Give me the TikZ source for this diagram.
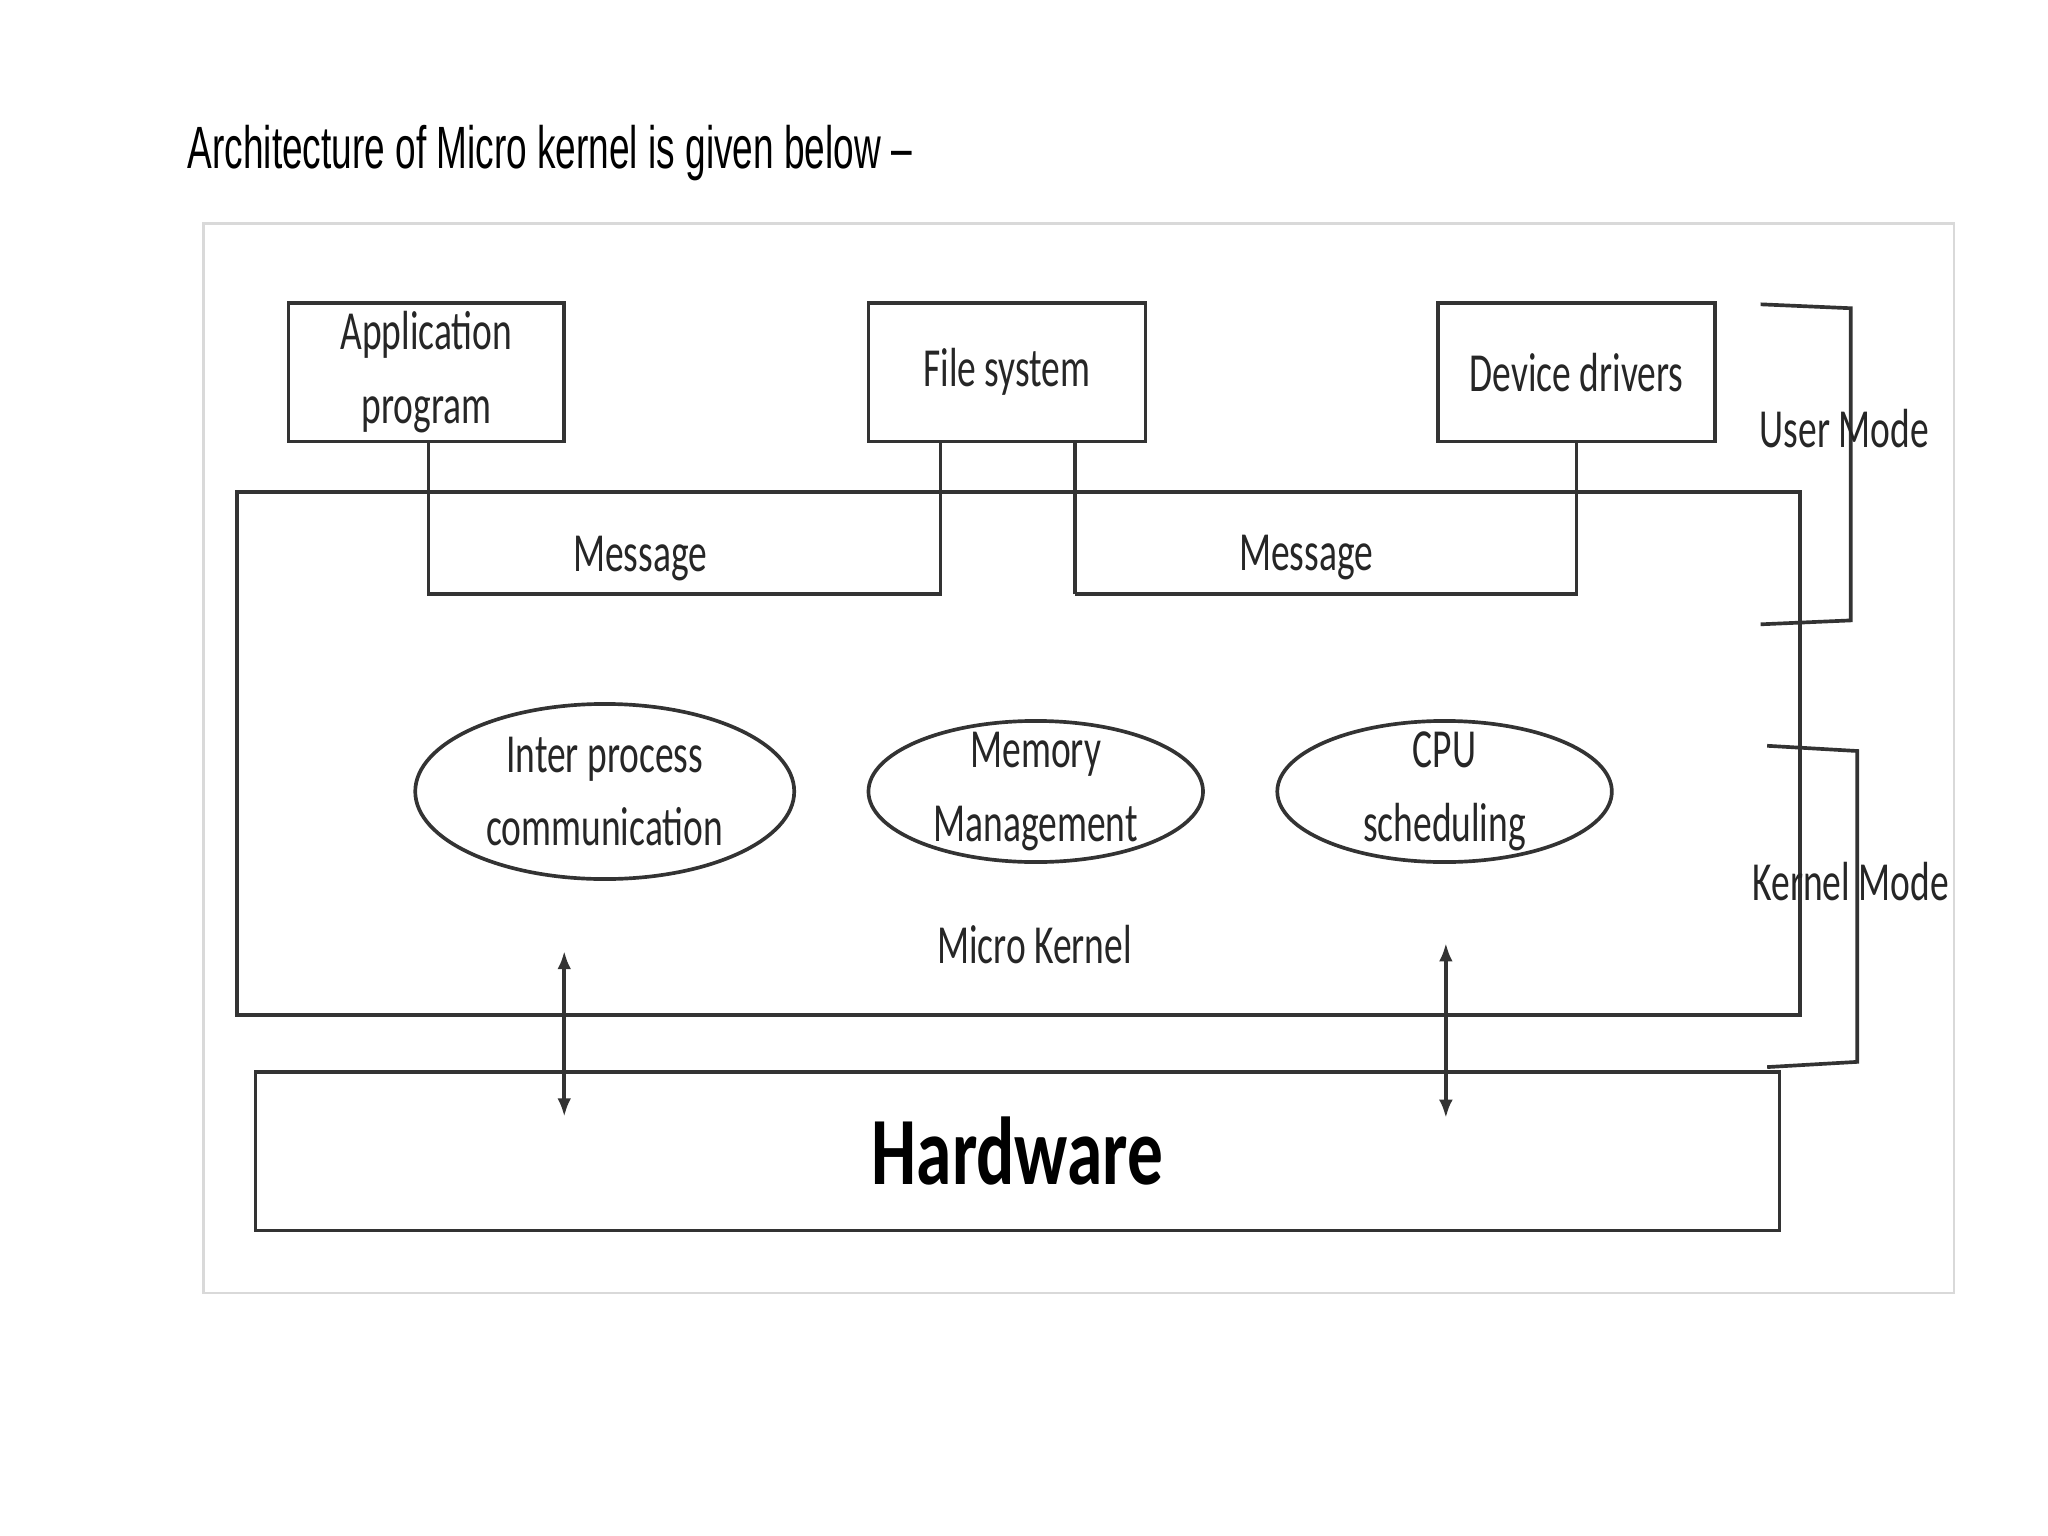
\documentclass[tikz,border=0pt]{standalone}
\usepackage{fontspec}
\setmainfont{Carlito}
\newfontfamily\titlefont{Liberation Sans}
\usetikzlibrary{shapes.geometric,calc,arrows.meta}
\begin{document}
\begin{tikzpicture}[x=0.01cm,y=-0.01cm,
  ln/.style={draw=black!80,line width=0.8pt},
  box/.style={ln,rectangle,inner sep=0pt},
  ell/.style={ln,ellipse,inner sep=0pt},
  lbl/.style={inner sep=0pt,font=\fontsize{12}{14}\selectfont,text=black!85},
  tw/.style={}]
\newcommand{\sx}[1]{\scalebox{0.68}[1]{#1}}
\useasboundingbox (0,0) rectangle (1568,1176);
\fill[white] (0,0) rectangle (1568,1176);
\node[anchor=west,inner sep=0pt,font=\titlefont\fontsize{13}{15}\selectfont] (title) at (143,117) {\scalebox{0.62}[1]{Architecture of Micro kernel is given below –}};
\draw[black!15,line width=0.6pt] (156,171) rectangle (1496,990);
\node[box,minimum width=2.11cm,minimum height=1.06cm] (app) at (326.5,285) {};
\node[lbl,align=center] at (app) {\sx{Application}\\[2pt]\sx{program}};
\node[box,minimum width=2.12cm,minimum height=1.06cm] (fs) at (771,285) {};
\node[lbl] at (fs) {\sx{File system}};
\node[box,minimum width=2.12cm,minimum height=1.06cm] (dd) at (1207,285) {};
\node[lbl] at (dd) {\sx{Device drivers}};
\node[box,minimum width=11.96cm,minimum height=4.0cm] (mk) at (780,577) {};
\node[box,minimum width=11.66cm,minimum height=1.21cm] (hw) at (779,881.5) {};
\node[inner sep=0pt,font=\fontsize{21}{24}\selectfont\bfseries] at (hw) {\scalebox{0.74}[1]{Hardware}};
\coordinate (m1) at (328,455);
\coordinate (m2) at (823,455);
\draw[ln] (328,338) -- (m1) -| (720,338);
\draw[ln] (m2) -- (823,338);
\draw[ln] (m2) -| (dd.south);
\node[lbl] at (490,428) {\sx{Message}};
\node[lbl] at (1000,427) {\sx{Message}};
\node[ell,minimum width=2.9cm,minimum height=1.34cm] (ipc) at (463,606) {};
\node[lbl,align=center] at (ipc) {\sx{Inter process}\\[2pt]\sx{communication}};
\node[ell,minimum width=2.56cm,minimum height=1.08cm] (mem) at (793,606) {};
\node[lbl,align=center] at (mem) {\sx{Memory}\\[2pt]\sx{Management}};
\node[ell,minimum width=2.56cm,minimum height=1.08cm] (cpu) at (1106,606) {};
\node[lbl,align=center] at (cpu) {\sx{CPU}\\[2pt]\sx{scheduling}};
\node[lbl] (mkl) at (792,723) {\sx{Micro Kernel}};
\coordinate (a1t) at (432,728); \coordinate (a1b) at (432,855);
\coordinate (a2t) at (1107,722); \coordinate (a2b) at (1107,856);
\draw[ln,{Latex[length=4pt,width=3pt]}-{Latex[length=4pt,width=3pt]}] (a1t) -- (a1b);
\draw[ln,{Latex[length=4pt,width=3pt]}-{Latex[length=4pt,width=3pt]}] (a2t) -- (a2b);
\draw[ln] (1348,233) -- (1417,236) -- (1417,475) -- (1348,478);
\node[lbl] at (1412,328) {\sx{User Mode}};
\draw[ln] (1353,571) -- (1422,575) -- (1422,813) -- (1353,817);
\node[lbl] at (1417,675) {\sx{Kernel Mode}};
\end{tikzpicture}
\end{document}
